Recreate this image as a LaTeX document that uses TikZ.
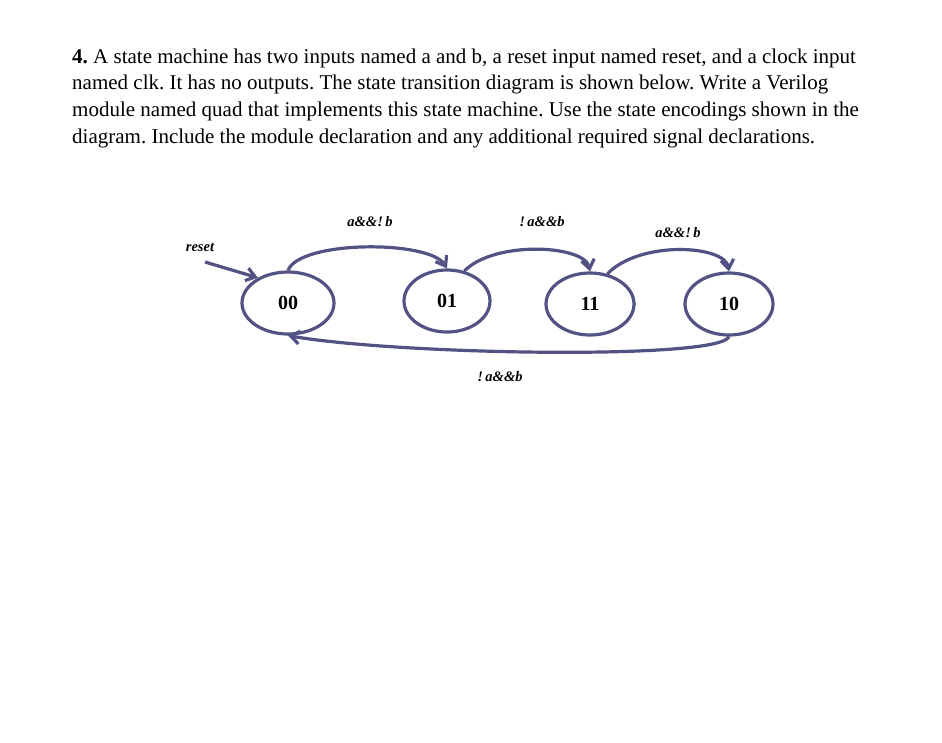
\documentclass[tikz,border=0pt]{standalone}
\usepackage{fontspec}
\setmainfont{Liberation Serif}
\usetikzlibrary{arrows.meta,shapes.geometric}
\definecolor{ln}{RGB}{82,82,132}
\begin{document}
\frenchspacing
\begin{tikzpicture}[x=1pt,y=-1pt,
  st/.style={draw=ln,line width=3.2pt,ellipse,minimum width=88pt,minimum height=62pt,inner sep=0pt,font=\fontsize{20}{20}\selectfont\bfseries},
  tr/.style={draw=ln,line width=3.2pt,-{Straight Barb[length=9pt,width=13pt]}},
  lab/.style={font=\fontsize{14.5}{14.5}\selectfont\bfseries\itshape},
  txt/.style={anchor=west,inner sep=0pt,font=\fontsize{21}{21}\selectfont}]
\useasboundingbox (0,0) rectangle (942,742);
\node[txt] (l1) at (72,58) {\textbf{4.} A state machine has two inputs named a and b, a reset input named reset, and a clock input};
\node[txt] (l2) at (72,84) {named clk. It has no outputs. The state transition diagram is shown below. Write a Verilog};
\node[txt] (l3) at (72,111) {module named quad that implements this state machine. Use the state encodings shown in the};
\node[txt] (l4) at (72,138) {diagram. Include the module declaration and any additional required signal declarations.};
\node[st,minimum width=92pt] (s00) at (288,303) {00};
\node[st,minimum width=86pt] (s01) at (447,301) {01};
\node[st] (s11) at (590,304) {11};
\node[st] (s10) at (729,304) {10};
\node[lab] (r) at (200,247) {reset};
\coordinate (rs) at (205,262);
\draw[tr] (rs) -- (s00.140);
\draw[tr] (s00.north) .. controls (300,240) and (430,240) .. (s01.north);
\draw[tr] (s01.60) .. controls (495,240) and (585,245) .. (s11.north);
\draw[tr] (s11.60) .. controls (640,240) and (725,245) .. (s10.north);
\draw[tr] (s10.south) .. controls (720,360) and (400,355) .. (s00.south);
\node[lab] (t1) at (370,222) {a\&\&!\,b};
\node[lab] (t2) at (542,222) {!\,a\&\&b};
\node[lab] (t3) at (678,233) {a\&\&!\,b};
\node[lab] (t4) at (500,377) {!\,a\&\&b};
\end{tikzpicture}
\end{document}
